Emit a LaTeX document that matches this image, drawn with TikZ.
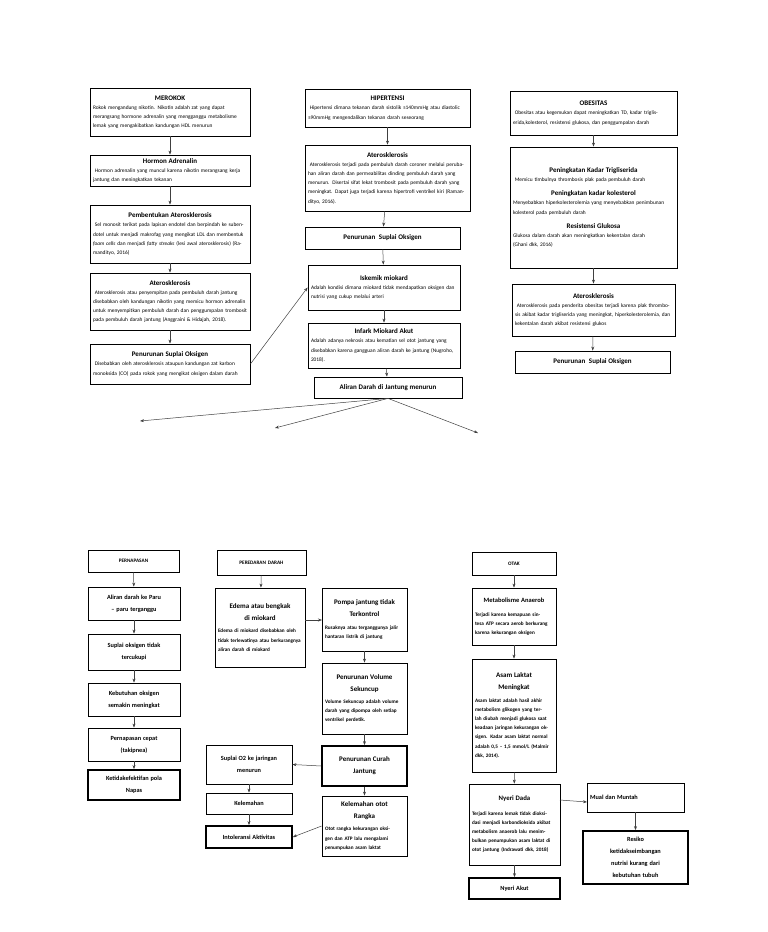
\documentclass[tikz,border=0pt]{standalone}
\usepackage{fontspec}
\setmainfont{Carlito}
\usetikzlibrary{arrows.meta}
\tikzset{
 box/.style={draw=black,line width=0.8pt,fill=white,inner sep=3pt,align=left,font=\fontsize{5.4}{9.2}\selectfont},
 thick box/.style={line width=1.8pt},
 arr/.style={draw=black!75,line width=0.5pt,-{Stealth[length=4pt,width=3pt]}}
}
\newcommand\bx[7]{%
 \pgfmathsetmacro\bxcx{(#2+#4)/2}\pgfmathsetmacro\bxcy{(#3+#5)/2}%
 \pgfmathsetmacro\bxw{#4-#2}\pgfmathsetmacro\bxh{#5-#3}\pgfmathsetmacro\bxtw{#4-#2-6}%
 \node[box,minimum width=\bxw pt,minimum height=\bxh pt,text width=\bxtw pt,#7] (#1) at (\bxcx,\bxcy) {#6};}
\newcommand\ttl[1]{{\centering\fontsize{7}{10}\selectfont\bfseries #1\par}}
\newcommand\btl[1]{{\centering\fontsize{7}{12}\selectfont\bfseries #1\par}\vspace{3pt}}
\newcommand\sm{\fontsize{5.2}{9.4}\selectfont\bfseries}
\newcommand\md{\fontsize{6.3}{12}\selectfont\bfseries}
\begin{document}
\begin{tikzpicture}[x=1pt,y=-1pt]
\useasboundingbox (0,0) rectangle (768,932);
% top left
\bx{mer}{90}{88}{250}{136}{\ttl{MEROKOK}Rokok mengandung nikotin. Nikotin adalah zat yang dapat merangsang hormone adrenalin yang mengganggu metabolisme lemak yang mengakibatkan kandungan HDL menurun}{}
\bx{hor}{90}{155}{250}{186}{\ttl{Hormon Adrenalin}\ Hormon adrenalin yang muncul karena nikotin merangsang kerja jantung dan meningkatkan tekanan}{}
\bx{pem}{90}{205}{250}{263}{\ttl{Pembentukan Aterosklerosis}\ Sel monosit terikat pada lapisan endotel dan berpindah ke subendotel untuk menjadi makrofag yang mengikat LDL dan membentuk \textit{foam cells} dan menjadi \textit{fatty streaks} (lesi awal aterosklerosis) (Ramandityo, 2016)}{}
\bx{ate1}{90}{273}{250}{330}{\ttl{Aterosklerosis}\ Aterosklerosis atau penyempitan pada pembuluh darah jantung disebabkan oleh kandungan nikotin yang memicu hormon adrenalin untuk menyempitkan pembuluh darah dan penggumpalan trombosit pada pembuluh darah jantung (Anggraini \& Hidajah, 2018).}{}
\bx{pso1}{90}{344}{250}{384}{\ttl{Penurunan Suplai Oksigen}\ Disebabkan oleh aterosklerosis ataupun kandungan zat karbon monoksida (CO) pada rokok yang mengikat oksigen dalam darah}{}
% top middle
\bx{hip}{305}{89}{470}{127}{\ttl{HIPERTENSI}\ Hipertensi dimana tekanan darah sistolik ≥140mmHg atau diastolic ≥90mmHg mengendalikan tekanan darah seseorang}{}
\bx{ate2}{305}{145}{470}{211}{\ttl{Aterosklerosis}\ Aterosklerosis terjadi pada pembuluh darah coroner melalui perubahan aliran darah dan permeabilitas dinding pembuluh darah yang menurun. Disertai sifat lekat trombosit pada pembuluh darah yang meningkat. Dapat juga terjadi karena hipertrofi ventrikel kiri (Ramandityo, 2016).}{}
\bx{pso2}{305}{227}{460}{249}{\ttl{Penurunan\ \ Suplai Oksigen}}{}
\bx{isk}{308}{265}{460}{310}{\ttl{Iskemik miokard}Adalah kondisi dimana miokard tidak mendapatkan oksigen dan nutrisi yang cukup melalui arteri}{}
\bx{inf}{308}{323}{460}{368}{\ttl{Infark Miokard Akut}Adalah adanya nekrosis atau kematian sel otot jantung yang disebabkan karena gangguan aliran darah ke jantung (Nugroho, 2018).}{}
\bx{ali}{314}{377}{462}{398}{\ttl{Aliran Darah di Jantung menurun}}{}
% top right
\bx{obe}{510}{91}{677}{135}{\ttl{OBESITAS}\ Obesitas atau kegemukan dapat meningkatkan TD, kadar trigliserida,kolesterol, resistensi glukosa, dan penggumpalan darah}{}
\bx{pen}{510}{147}{677}{268}{\ttl{Peningkatan Kadar Trigliserida}\ Memicu timbulnya thrombosis plak pada pembuluh darah\par\vspace{4pt}\ttl{Peningkatan kadar kolesterol}Menyebabkan hiperkolesterolemia yang menyebabkan penimbunan kolesterol pada pembuluh darah\par\vspace{4pt}\ttl{Resistensi Glukosa}Glukosa dalam darah akan meningkatkan kekentalan darah\\(Ghani dkk, 2016)}{}
\bx{ate3}{512}{284}{675}{336}{\ttl{Aterosklerosis}\ Aterosklerosis pada penderita obesitas terjadi karena plak thrombosis akibat kadar trigliserida yang meningkat, hiperkolesterolemia, dan kekentalan darah akibat resistensi glukos}{}
\bx{pso3}{515}{351}{670}{373}{\ttl{Penurunan\ \ Suplai Oksigen}}{}
% arrows top
\draw[arr] (mer) -- (hor); \draw[arr] (hor) -- (pem); \draw[arr] (pem) -- (ate1); \draw[arr] (ate1) -- (pso1);
\draw[arr] (hip) -- (ate2); \draw[arr] (ate2) -- (pso2); \draw[arr] (pso2) -- (isk); \draw[arr] (isk) -- (inf); \draw[arr] (inf) -- (ali);
\draw[arr] (obe) -- (pen); \draw[arr] (pen) -- (ate3); \draw[arr] (ate3) -- (pso3);
\draw[arr] (pso1.east) -- (isk.west);
\coordinate (s1) at (140,421); \coordinate (s2) at (275,428); \coordinate (s3) at (478,433);
\draw[arr] (ali.south) -- (s1); \draw[arr] (ali.south) -- (s2); \draw[arr] (ali.south) -- (s3);
% bottom left
\bx{per}{88}{550}{179}{572}{{\centering\sm PERNAPASAN\par}}{}
\bx{b1}{88}{587}{180}{620}{{\centering\md Aliran darah ke Paru\\ – paru terganggu\par}}{}
\bx{b2}{88}{634}{180}{670}{{\centering\md Suplai oksigen tidak\\ tercukupi\par}}{}
\bx{b3}{88}{683}{180}{716}{{\centering\md Kebutuhan oksigen\\ semakin meningkat\par}}{}
\bx{b4}{88}{728}{180}{761}{{\centering\md Pernapasan cepat\\ (takipnea)\par}}{}
\bx{b5}{88}{770}{180}{800}{{\centering\md Ketidakefektifan pola\\ Napas\par}}{thick box}
\draw[arr] (per)--(b1); \draw[arr] (b1)--(b2); \draw[arr] (b2)--(b3); \draw[arr] (b3)--(b4); \draw[arr] (b4)--(b5);
% bottom middle
\bx{pd}{217}{550}{306}{575}{{\centering\sm PEREDARAN DARAH\par}}{}
\bx{ede}{215}{588}{305}{667}{\btl{Edema atau bengkak\\ di miokard}{\sm Edema di miokard disebabkan oleh tidak terlewatinya atau berkurangnya aliran darah di miokard}}{}
\bx{pom}{322}{588}{407}{651}{\btl{Pompa jantung tidak\\ Terkontrol}{\sm Rusaknya atau terganggunya jalir hantaran listrik di jantung}}{}
\bx{vol}{322}{663}{407}{734}{\btl{Penurunan Volume\\ Sekuncup}{\sm Volume Sekuncup adalah volume darah yang dipompa oleh setiap ventrikel perdetik.}}{}
\bx{cur}{322}{746}{407}{786}{{\centering\fontsize{7}{12}\selectfont\bfseries Penurunan Curah\\ Jantung\par}}{thick box}
\bx{kot}{322}{796}{407}{856}{\btl{Kelemahan otot\\ Rangka}{\sm Otot rangka kekurangan oksigen dan ATP lalu mengalami penumpukan asam laktat}}{}
\bx{so2}{206}{745}{292}{784}{{\centering\md Suplai O2 ke jaringan\\ menurun\par}}{}
\bx{kel}{206}{793}{292}{814}{{\centering\md Kelemahan\par}}{}
\bx{int}{206}{826}{292}{848}{{\centering\md Intoleransi Aktivitas\par}}{thick box}
\coordinate (e1) at (305,620); \coordinate (e2) at (322,620);
\draw[arr] (pd)--(ede); \draw[arr] (e1) -- (e2); \draw[arr] (pom)--(vol); \draw[arr] (vol)--(cur); \draw[arr] (cur)--(kot);
\draw[arr] (cur.west) -- (so2.east); \draw[arr] (so2)--(kel); \draw[arr] (kel)--(int); \draw[arr] (kot.west) -- (int.east);
% bottom right
\bx{ota}{472}{552}{556}{575}{{\centering\sm OTAK\par}}{}
\bx{met}{472}{588}{556}{645}{{\centering\fontsize{6.5}{10}\selectfont\bfseries Metabolisme Anaerob\par}\vspace{5pt}{\sm Terjadi karena kemapuan sintesa ATP secara aerob berkurang karena kekurangan oksigen}}{}
\bx{asa}{472}{659}{556}{772}{\btl{Asam Laktat\\ Meningkat}{\sm Asam laktat adalah hasil akhir metabolism glikogen yang terlah diubah menjadi glukosa saat keadaan jaringan kekurangan oksigen. Kadar asam laktat normal adalah 0,5 – 1,5 mmol/L (Malmir dkk, 2014).}}{}
\bx{nye}{469}{784}{560}{865}{{\centering\fontsize{6.8}{10}\selectfont\bfseries Nyeri Dada\par}\vspace{5pt}{\sm Terjadi karena lemak tidak dioksidasi menjadi karbondioksida akibat metabolism anaerob lalu menimbulkan penumpukan asam laktat di otot jantung (Indrawati dkk, 2018)}}{}
\bx{nak}{469}{878}{560}{899}{{\centering\md Nyeri Akut\par}}{thick box}
\bx{mua}{587}{783}{684}{812}{\vspace{-10pt}{\md Mual dan Muntah\par}}{}
\bx{res}{583}{831}{688}{884}{{\centering\md Resiko\\ ketidakseimbangan\\ nutrisi kurang dari\\ kebutuhan tubuh\par}}{thick box}
\coordinate (n1) at (560,800); \coordinate (n2) at (587,802);
\draw[arr] (ota)--(met); \draw[arr] (met)--(asa); \draw[arr] (asa)--(nye); \draw[arr] (nye)--(nak);
\draw[arr] (n1) -- (n2); \draw[arr] (mua)--(res);
\end{tikzpicture}
\end{document}
